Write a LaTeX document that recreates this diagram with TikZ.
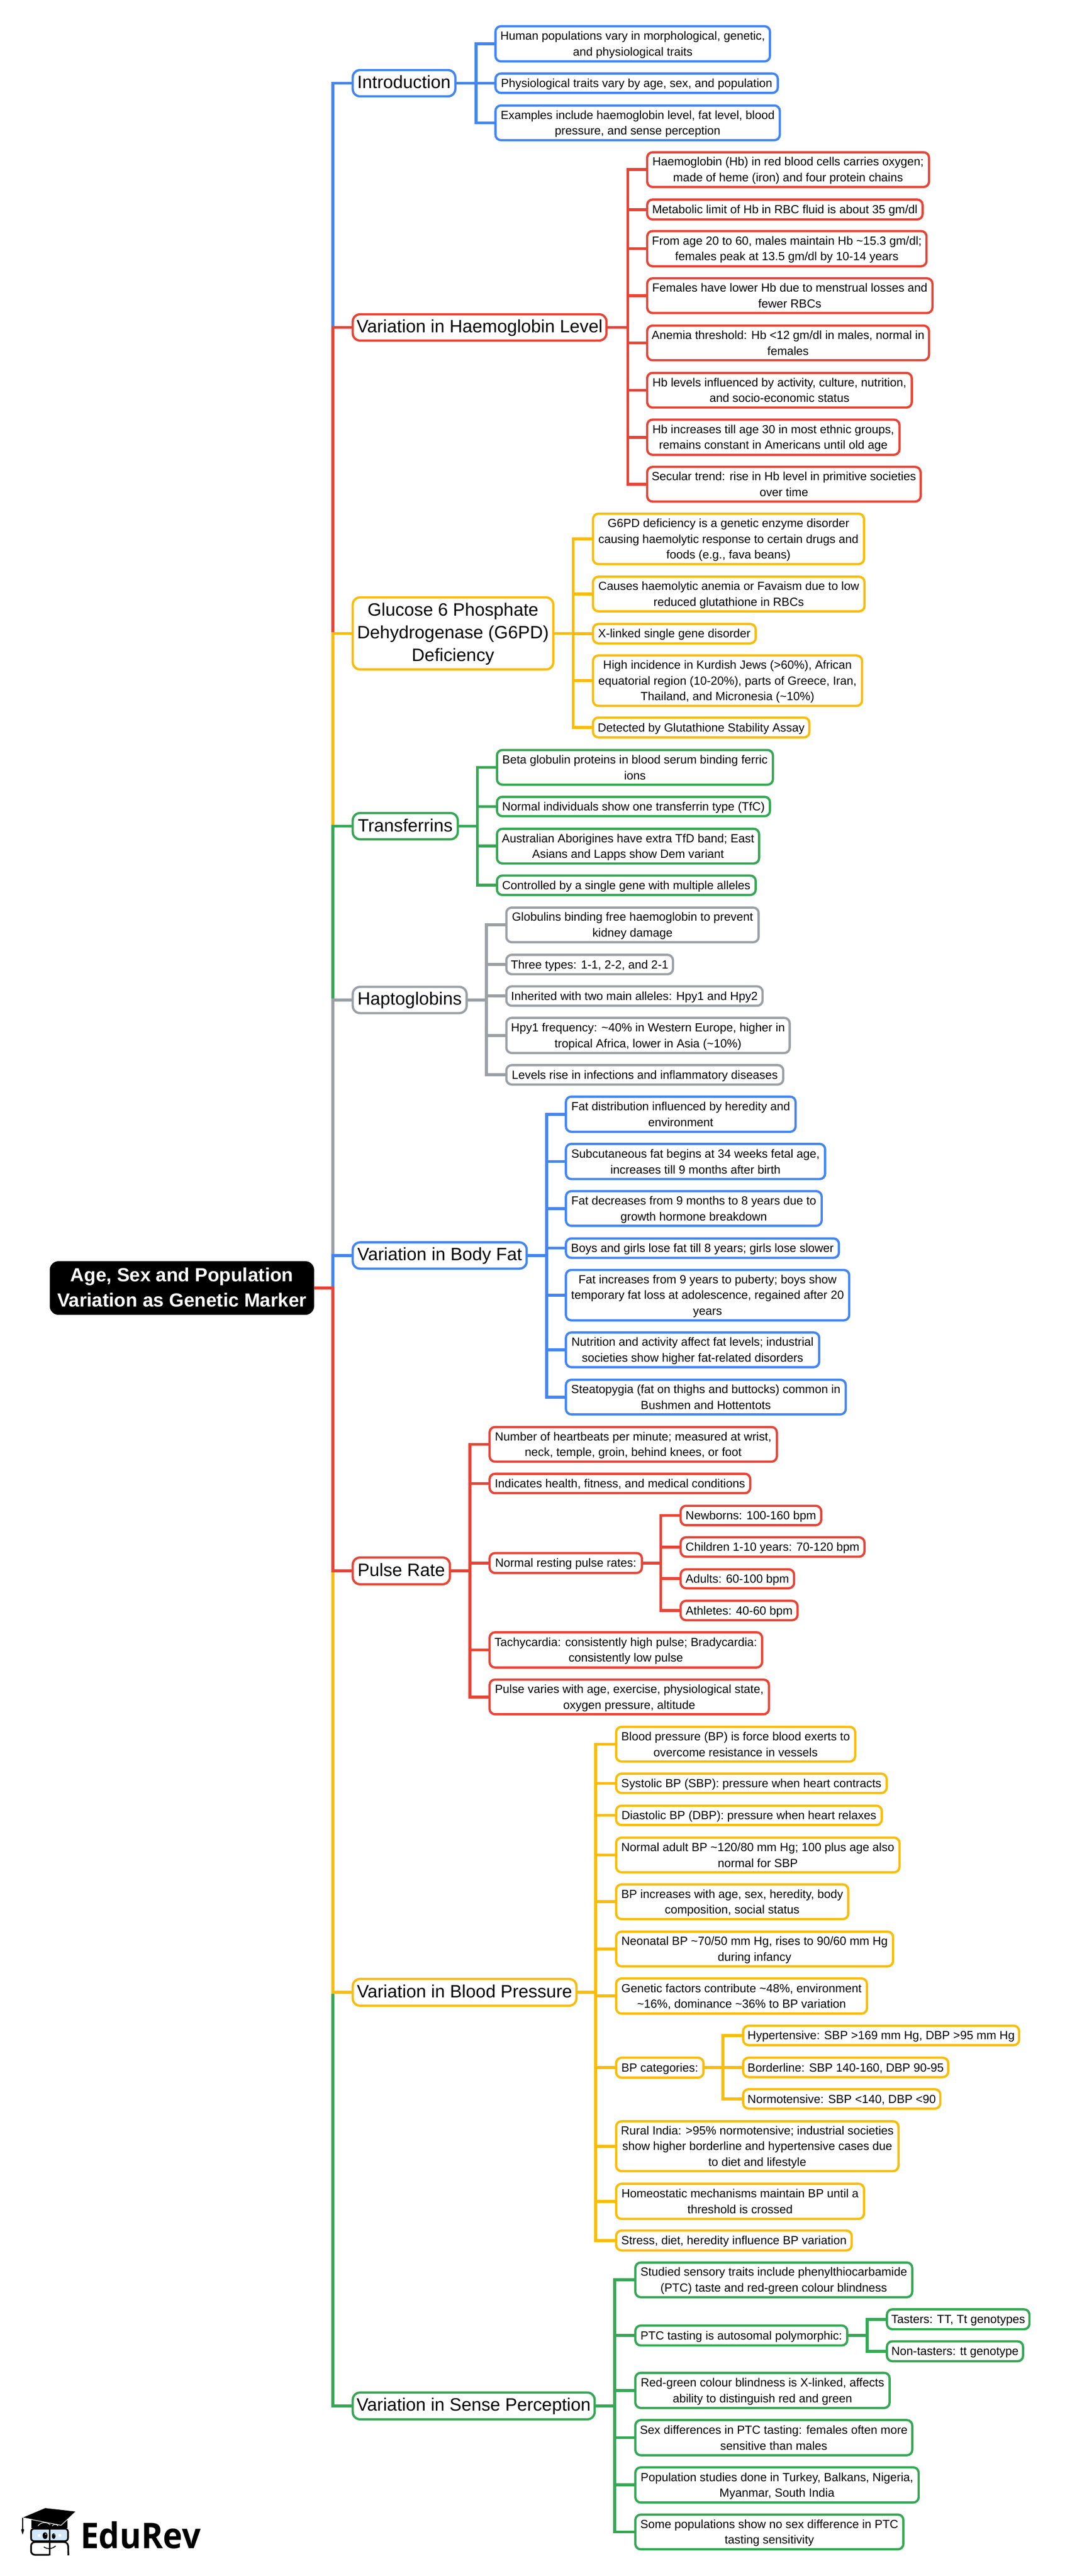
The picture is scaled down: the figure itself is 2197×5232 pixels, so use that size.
\documentclass[tikz,border=0pt]{standalone}
\usepackage{fontspec}
\setmainfont{Liberation Sans}
\newfontfamily\logofont[FakeStretch=0.93]{Open Sans}
\definecolor{cb}{HTML}{4285F4}
\definecolor{cr}{HTML}{EA4335}
\definecolor{cy}{HTML}{FBBC04}
\definecolor{cg}{HTML}{34A853}
\definecolor{cn}{HTML}{9AA0A6}
\definecolor{lensblue}{HTML}{D2E8F8}
\newcommand\St{\rule[-.184em]{0pt}{\Tp}}
\newcommand\Sr{\rule[-.21em]{0pt}{1.058em}}
\tikzset{
  box/.style={rectangle,rounded corners=5.5pt,line width=2.3pt,fill=white,inner sep=0pt,outer sep=0pt,align=center,text=black,font=\fontsize{12}{16}\selectfont\def\Tp{1.093em}},
  head/.style={box,rounded corners=7.5pt,font=\fontsize{18.15}{23}\selectfont\def\Tp{.968em}},
  rootbox/.style={rectangle,rounded corners=9pt,fill=black,inner sep=0pt,outer sep=0pt,align=center,text=white,font=\bfseries\fontsize{19.3}{25.6}\selectfont},
  conn/.style={line width=3pt,line join=miter,line cap=butt}
}
% name, colour, x1, y1, x2, y2, text
\newcommand\B[8][box]{%
  \pgfmathsetmacro\bw{(#5-#3-4.6)*0.5}%
  \pgfmathsetmacro\bh{(#6-#4-4.6)*0.5}%
  \pgfmathsetmacro\cx{(#3+#5)/2}%
  \pgfmathsetmacro\cy{(#4+#6)/2}%
  \node[#1,draw=#2,minimum width=\bw pt,minimum height=\bh pt] (#7) at (\cx,\cy) {\St #8\St};}
% parent, child, fork x, colour
\newcommand\K[4]{\draw[conn,draw=#4] (#1.east) -- (#3,0 |- #1.east) |- (#2.west);}
\begin{document}
\begin{tikzpicture}[x=0.5pt,y=-0.5pt]
\useasboundingbox (0,0) rectangle (2197,5232);
\pgfmathsetmacro\rw{(638-101)*0.5}\pgfmathsetmacro\rh{(2670-2561)*0.5}
\node[rootbox,minimum width=\rw pt,minimum height=\rh pt] (root) at (369.5,2616) {\Sr Age, Sex and Population\\Variation as Genetic Marker\Sr};
% Headings
\B[head]{cb}{714}{140}{927}{198}{intro}{Introduction}
\B[head]{cr}{714}{636}{1234}{694}{hb}{Variation in Haemoglobin Level}
\B[head]{cy}{714}{1211}{1126}{1362}{gp}{Glucose 6 Phosphate\\Dehydrogenase (G6PD)\\Deficiency}
\B[head]{cg}{714}{1649}{932}{1707}{tf}{Transferrins}
\B[head]{cn}{714}{2002}{950}{2060}{hp}{Haptoglobins}
\B[head]{cb}{714}{2521}{1072}{2579}{fat}{Variation in Body Fat}
\B[head]{cr}{714}{3161}{916}{3220}{pr}{Pulse Rate}
\B[head]{cy}{714}{4017}{1173}{4076}{bp}{Variation in Blood Pressure}
\B[head]{cg}{714}{4857}{1210}{4916}{sp}{Variation in Sense Perception}
% Introduction
\B{cb}{1004}{51}{1566}{127}{i1}{Human populations vary in morphological, genetic,\\and physiological traits}
\B{cb}{1004}{147}{1582}{191}{i2}{Physiological traits vary by age, sex, and population}
\B{cb}{1004}{212}{1586}{287}{i3}{Examples include haemoglobin level, fat level, blood\\pressure, and sense perception}
% Haemoglobin
\B{cr}{1312}{307}{1889}{382}{h1}{Haemoglobin (Hb) in red blood cells carries oxygen;\\made of heme (iron) and four protein chains}
\B{cr}{1312}{403}{1876}{448}{h2}{Metabolic limit of Hb in RBC fluid is about 35 gm/dl}
\B{cr}{1312}{467}{1884}{543}{h3}{From age 20 to 60, males maintain Hb \textasciitilde15.3 gm/dl;\\females peak at 13.5 gm/dl by 10-14 years}
\B{cr}{1312}{563}{1896}{638}{h4}{Females have lower Hb due to menstrual losses and\\fewer RBCs}
\B{cr}{1312}{659}{1889}{734}{h5}{Anemia threshold: Hb <12 gm/dl in males, normal in\\females}
\B{cr}{1312}{755}{1854}{830}{h6}{Hb levels influenced by activity, culture, nutrition,\\and socio-economic status}
\B{cr}{1312}{850}{1829}{926}{h7}{Hb increases till age 30 in most ethnic groups,\\remains constant in Americans until old age}
\B{cr}{1312}{946}{1872}{1021}{h8}{Secular trend: rise in Hb level in primitive societies\\over time}
% G6PD
\B{cy}{1202}{1041}{1757}{1148}{g1}{G6PD deficiency is a genetic enzyme disorder\\causing haemolytic response to certain drugs and\\foods (e.g., fava beans)}
\B{cy}{1202}{1169}{1758}{1244}{g2}{Causes haemolytic anemia or Favaism due to low\\reduced glutathione in RBCs}
\B{cy}{1202}{1265}{1537}{1309}{g3}{X-linked single gene disorder}
\B{cy}{1202}{1329}{1753}{1436}{g4}{High incidence in Kurdish Jews (>60\%), African\\equatorial region (10-20\%), parts of Greece, Iran,\\Thailand, and Micronesia (\textasciitilde10\%)}
\B{cy}{1202}{1455}{1646}{1500}{g5}{Detected by Glutathione Stability Assay}
% Transferrins
\B{cg}{1007}{1521}{1572}{1596}{t1}{Beta globulin proteins in blood serum binding ferric\\ions}
\B{cg}{1007}{1616}{1566}{1660}{t2}{Normal individuals show one transferrin type (TfC)}
\B{cg}{1007}{1681}{1544}{1756}{t3}{Australian Aborigines have extra TfD band; East\\Asians and Lapps show Dem variant}
\B{cg}{1007}{1776}{1537}{1820}{t4}{Controlled by a single gene with multiple alleles}
% Haptoglobins
\B{cn}{1026}{1841}{1543}{1916}{p1}{Globulins binding free haemoglobin to prevent\\kidney damage}
\B{cn}{1026}{1937}{1369}{1981}{p2}{Three types: 1-1, 2-2, and 2-1}
\B{cn}{1026}{2001}{1551}{2045}{p3}{Inherited with two main alleles: Hpy1 and Hpy2}
\B{cn}{1026}{2065}{1606}{2141}{p4}{Hpy1 frequency: \textasciitilde40\% in Western Europe, higher in\\tropical Africa, lower in Asia (\textasciitilde10\%)}
\B{cn}{1026}{2161}{1593}{2205}{p5}{Levels rise in infections and inflammatory diseases}
% Body fat
\B{cb}{1147}{2225}{1618}{2301}{f1}{Fat distribution influenced by heredity and\\environment}
\B{cb}{1147}{2321}{1678}{2397}{f2}{Subcutaneous fat begins at 34 weeks fetal age,\\increases till 9 months after birth}
\B{cb}{1147}{2417}{1671}{2492}{f3}{Fat decreases from 9 months to 8 years due to\\growth hormone breakdown}
\B{cb}{1147}{2513}{1706}{2557}{f4}{Boys and girls lose fat till 8 years; girls lose slower}
\B{cb}{1147}{2577}{1727}{2684}{f5}{Fat increases from 9 years to puberty; boys show\\temporary fat loss at adolescence, regained after 20\\years}
\B{cb}{1147}{2704}{1666}{2779}{f6}{Nutrition and activity affect fat levels; industrial\\societies show higher fat-related disorders}
\B{cb}{1147}{2800}{1720}{2875}{f7}{Steatopygia (fat on thighs and buttocks) common in\\Bushmen and Hottentots}
% Pulse
\B{cr}{992}{2896}{1580}{2971}{r1}{Number of heartbeats per minute; measured at wrist,\\neck, temple, groin, behind knees, or foot}
\B{cr}{992}{2991}{1526}{3035}{r2}{Indicates health, fitness, and medical conditions}
\B{cr}{992}{3152}{1306}{3197}{r3}{Normal resting pulse rates:}
\B{cr}{1380}{3056}{1670}{3100}{ra}{Newborns: 100-160 bpm}
\B{cr}{1380}{3120}{1758}{3164}{rb}{Children 1-10 years: 70-120 bpm}
\B{cr}{1380}{3185}{1615}{3228}{rc}{Adults: 60-100 bpm}
\B{cr}{1380}{3249}{1622}{3293}{rd}{Athletes: 40-60 bpm}
\B{cr}{992}{3313}{1550}{3389}{r4}{Tachycardia: consistently high pulse; Bradycardia:\\consistently low pulse}
\B{cr}{992}{3409}{1564}{3484}{r5}{Pulse varies with age, exercise, physiological state,\\oxygen pressure, altitude}
% Blood pressure
\B{cy}{1249}{3505}{1739}{3580}{b1}{Blood pressure (BP) is force blood exerts to\\overcome resistance in vessels}
\B{cy}{1249}{3600}{1803}{3644}{b2}{Systolic BP (SBP): pressure when heart contracts}
\B{cy}{1249}{3665}{1793}{3709}{b3}{Diastolic BP (DBP): pressure when heart relaxes}
\B{cy}{1249}{3730}{1829}{3805}{b4}{Normal adult BP \textasciitilde120/80 mm Hg; 100 plus age also\\normal for SBP}
\B{cy}{1249}{3825}{1725}{3900}{b5}{BP increases with age, sex, heredity, body\\composition, social status}
\B{cy}{1249}{3921}{1816}{3996}{b6}{Neonatal BP \textasciitilde70/50 mm Hg, rises to 90/60 mm Hg\\during infancy}
\B{cy}{1249}{4016}{1763}{4092}{b7}{Genetic factors contribute \textasciitilde48\%, environment\\\textasciitilde16\%, dominance \textasciitilde36\% to BP variation}
\B{cy}{1249}{4177}{1431}{4222}{b8}{BP categories:}
\B{cy}{1507}{4112}{2072}{4156}{ba}{Hypertensive: SBP >169 mm Hg, DBP >95 mm Hg}
\B{cy}{1507}{4177}{1928}{4221}{bb}{Borderline: SBP 140-160, DBP 90-95}
\B{cy}{1507}{4241}{1912}{4285}{bc}{Normotensive: SBP <140, DBP <90}
\B{cy}{1249}{4306}{1827}{4412}{b9}{Rural India: >95\% normotensive; industrial societies\\show higher borderline and hypertensive cases due\\to diet and lifestyle}
\B{cy}{1249}{4433}{1757}{4509}{b10}{Homeostatic mechanisms maintain BP until a\\threshold is crossed}
\B{cy}{1249}{4528}{1732}{4573}{b11}{Stress, diet, heredity influence BP variation}
% Sense perception
\B{cg}{1288}{4593}{1855}{4668}{s1}{Studied sensory traits include phenylthiocarbamide\\(PTC) taste and red-green colour blindness}
\B{cg}{1288}{4721}{1723}{4766}{s2}{PTC tasting is autosomal polymorphic:}
\B{cg}{1799}{4688}{2093}{4733}{sa}{Tasters: TT, Tt genotypes}
\B{cg}{1799}{4753}{2080}{4798}{sb}{Non-tasters: tt genotype}
\B{cg}{1288}{4817}{1809}{4893}{s3}{Red-green colour blindness is X-linked, affects\\ability to distinguish red and green}
\B{cg}{1288}{4913}{1855}{4989}{s4}{Sex differences in PTC tasting: females often more\\sensitive than males}
\B{cg}{1288}{5009}{1868}{5085}{s5}{Population studies done in Turkey, Balkans, Nigeria,\\Myanmar, South India}
\B{cg}{1288}{5105}{1837}{5180}{s6}{Some populations show no sex difference in PTC\\tasting sensitivity}
% Root connectors (the nearest to the root is drawn last)
\K{root}{intro}{676}{cb}
\K{root}{hb}{676}{cr}
\K{root}{gp}{676}{cy}
\K{root}{tf}{676}{cg}
\K{root}{hp}{676}{cn}
\K{root}{fat}{676}{cb}
\K{root}{sp}{676}{cg}
\K{root}{bp}{676}{cy}
\K{root}{pr}{676}{cr}
% Branch connectors
\foreach \c in {i1,i2,i3} {\K{intro}{\c}{967}{cb}}
\foreach \c in {h1,h2,h3,h4,h5,h6,h7,h8} {\K{hb}{\c}{1275}{cr}}
\foreach \c in {g1,g2,g3,g4,g5} {\K{gp}{\c}{1164}{cy}}
\foreach \c in {t1,t2,t3,t4} {\K{tf}{\c}{969.5}{cg}}
\foreach \c in {p1,p2,p3,p4,p5} {\K{hp}{\c}{988}{cn}}
\foreach \c in {f1,f2,f3,f4,f5,f6,f7} {\K{fat}{\c}{1110}{cb}}
\foreach \c in {r1,r2,r3,r4,r5} {\K{pr}{\c}{954}{cr}}
\foreach \c in {ra,rb,rc,rd} {\K{r3}{\c}{1342}{cr}}
\foreach \c in {b1,b2,b3,b4,b5,b6,b7,b8,b9,b10,b11} {\K{bp}{\c}{1210}{cy}}
\foreach \c in {ba,bb,bc} {\K{b8}{\c}{1468}{cy}}
\foreach \c in {s1,s2,s3,s4,s5,s6} {\K{sp}{\c}{1248}{cg}}
\foreach \c in {sa,sb} {\K{s2}{\c}{1761}{cg}}
% Logo
\fill[black] (64,5117) -- (64,5135) -- (137,5135) -- (137,5117) -- cycle;
\fill[black] (47,5113) -- (92,5094) -- (153,5101) -- (124,5128) -- cycle;
\draw[white,line width=0.6pt] (47,5114) -- (124,5129) -- (137,5117);
\draw[black,line width=0.6pt] (46,5114) -- (46,5136);
\fill[black] (43,5138) -- (46,5135) -- (49,5138) -- (46,5148) -- cycle;
\draw[white,line width=0.6pt] (77,5130) .. controls (85,5121) and (95,5122) .. (102,5128);
\draw[white,line width=0.6pt] (106,5130) .. controls (110,5126) and (114,5126) .. (118,5130);
\draw[black,line width=1.7pt,fill=lensblue,rounded corners=3pt] (63,5136) rectangle (138,5161);
\draw[black,line width=1.7pt,rounded corners=4pt] (100,5189) -- (63,5189) -- (63,5163) -- (138,5163) -- (139,5190);
\draw[black,line width=1.4pt] (101,5135) -- (101,5190);
\fill[black] (91.5,5150) ellipse [x radius=5,y radius=6.8];
\fill[black] (109,5151) ellipse [x radius=3.8,y radius=5.8];
\fill[white] (93,5147) circle [radius=1.1] (110,5148) circle [radius=0.9];
\fill[white] (77,5147) rectangle (82,5152) (119,5147) rectangle (124,5152);
\draw[black,line width=0.9pt] (89,5173) .. controls (97,5178) and (106,5177) .. (113,5171);
\node[font=\logofont\bfseries\fontsize{36}{36}\selectfont,anchor=base west,inner sep=0pt] (logo) at (163,5176) {EduRev};
\end{tikzpicture}
\end{document}
